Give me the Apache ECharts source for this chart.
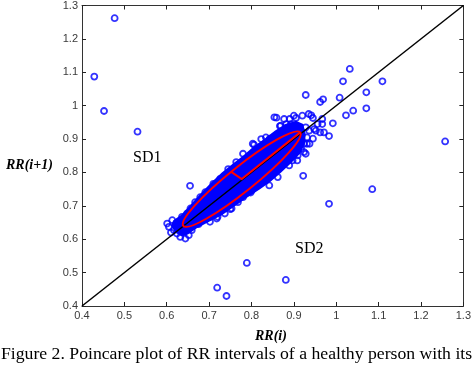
<!DOCTYPE html>
<html><head><meta charset="utf-8">
<script src="https://cdn.jsdelivr.net/npm/echarts@6/dist/echarts.min.js"></script>
<style>html,body{margin:0;padding:0;background:#fff}#c{width:474px;height:365px}</style>
</head><body><div id="c"></div>
<script>
// Axis range / ticks
const AXIS_MIN = 0.4, AXIS_MAX = 1.3, AXIS_STEP = 0.1;
// Identity line
const IDENTITY = [[0.4, 0.4], [1.3, 1.3]];
// Isolated outlier beats [RR(i), RR(i+1)]
const OUTLIERS = [
  [0.477,1.262],[0.429,1.087],[0.452,0.984],[0.531,0.922],
  [1.032,1.110],[1.016,1.073],[1.109,1.073],[1.071,1.040],[0.928,1.032],[0.962,1.011],[0.969,1.019],[1.008,1.024],
  [1.071,0.992],[1.040,0.985],[1.023,0.971],[0.992,0.947],[0.983,0.909],[1.257,0.893],[0.859,0.964],[0.867,0.939],
  [0.806,0.883],[0.922,0.790],[0.928,0.856],[0.945,0.901],
  [1.085,0.750],[0.983,0.706],[0.789,0.529],[0.881,0.478],[0.798,0.740],
  [0.719,0.455],[0.741,0.430],[0.655,0.760],[0.750,0.690],[0.720,0.667]
];
// Beats on the edge of the dense cluster
const CLUSTER_LOW = [
  [0.613,0.657],[0.605,0.637],[0.617,0.627],[0.601,0.647],[0.624,0.617],[0.632,0.607],[0.644,0.602],[0.652,0.612],
  [0.659,0.627],[0.636,0.667],[0.648,0.677],[0.656,0.692],[0.667,0.711],[0.679,0.726],[0.691,0.741],[0.710,0.766],
  [0.726,0.781],[0.718,0.662],[0.702,0.652],[0.737,0.677],[0.753,0.692],[0.768,0.711],[0.780,0.726],[0.610,0.620],
  [0.622,0.645],[0.640,0.630],[0.675,0.645],[0.690,0.660]
];
const CLUSTER_HIGH = [
  [0.803,0.886],[0.834,0.905],[0.854,0.965],[0.869,0.940],[0.877,0.960],[0.900,0.970],[0.920,0.970],[0.935,0.975],
  [0.893,0.945],[0.928,0.935],[0.931,0.905],[0.931,0.886],[0.924,0.861],[0.908,0.836],[0.889,0.821],[0.877,0.826],
  [0.862,0.786],[0.842,0.761],[0.780,0.856],[0.764,0.831],[0.823,0.900],[0.843,0.901],[0.870,0.920],[0.882,0.945],
  [0.890,0.960],[0.905,0.963],[0.941,0.971],[0.945,0.963],[0.967,0.960],[0.956,0.945],[0.948,0.930],[0.962,0.920],
  [0.924,0.886],[0.917,0.871],[0.909,0.851],[0.897,0.836],[0.967,0.945],[0.971,0.920],[0.952,0.925],[0.936,0.925],
  [0.937,0.886],[0.745,0.810],[0.820,0.770],[0.800,0.745]
];
// Outline of the solid (overlapping) core of the cluster
const CORE = [
  [0.610,0.640],[0.620,0.620],[0.635,0.608],[0.650,0.614],[0.670,0.632],[0.700,0.652],[0.730,0.672],[0.760,0.698],
  [0.790,0.725],[0.820,0.750],[0.845,0.772],[0.870,0.800],[0.895,0.830],[0.915,0.857],[0.926,0.885],[0.928,0.915],
  [0.922,0.945],[0.905,0.955],[0.880,0.945],[0.855,0.925],[0.830,0.900],[0.805,0.878],[0.780,0.850],[0.755,0.825],
  [0.730,0.800],[0.705,0.770],[0.680,0.737],[0.655,0.702],[0.635,0.674],[0.615,0.656]
];
// Poincare ellipse: centre, end of SD2 axis, end of SD1 axis
const ELLIPSE_CENTER = [0.777, 0.780];
const SD2_END = [0.915, 0.920];
const SD1_END = [0.753, 0.801];

const chart = echarts.init(document.getElementById('c'), null, {renderer: 'canvas'});
const fmt = v => String(+v.toFixed(1));
const tickCol = '#222';
function mkAxis(pos, showLabel) {
  return {
    type: 'value', min: AXIS_MIN, max: AXIS_MAX, interval: AXIS_STEP, position: pos,
    axisLine: {show: true, onZero: false, lineStyle: {color: '#333', width: 1}},
    axisTick: {show: true, inside: true, length: 4, lineStyle: {color: tickCol}},
    axisLabel: {show: showLabel, color: '#3a3a3a', fontSize: 11, fontFamily: 'Liberation Sans', margin: 4, formatter: fmt},
    splitLine: {show: false}
  };
}
const circleStyle = {color: 'rgba(0,0,0,0)', borderColor: '#0000ff', borderWidth: 1.8};
chart.setOption({
  animation: false,
  grid: {left: 82, right: 6, top: 4.5, bottom: 59, containLabel: false},
  xAxis: [mkAxis('bottom', true), mkAxis('top', false)],
  yAxis: [mkAxis('left', true), mkAxis('right', false)],
  series: [
    {
      type: 'custom', data: CORE, z: 1,
      renderItem: function (params, api) {
        if (params.dataIndex !== 0) return null;
        return {type: 'polygon', shape: {points: CORE.map(p => api.coord(p))}, style: {fill: '#0000ff'}};
      }
    },
    {type: 'scatter', data: CLUSTER_LOW.concat(CLUSTER_HIGH), symbol: 'circle', symbolSize: 6, itemStyle: circleStyle, z: 2},
    {type: 'scatter', data: OUTLIERS, symbol: 'circle', symbolSize: 6, itemStyle: circleStyle, z: 2},
    {type: 'line', data: IDENTITY, symbol: 'none', lineStyle: {color: '#000', width: 1.5}, z: 3},
    {
      type: 'custom', data: [ELLIPSE_CENTER], z: 4,
      renderItem: function (params, api) {
        const c = api.coord(ELLIPSE_CENTER), e2 = api.coord(SD2_END), e1 = api.coord(SD1_END);
        const rx = Math.hypot(e2[0] - c[0], e2[1] - c[1]);
        const ry = Math.hypot(e1[0] - c[0], e1[1] - c[1]);
        const ang = -Math.atan2(e2[1] - c[1], e2[0] - c[0]);
        return {
          type: 'group',
          children: [
            {type: 'ellipse', x: c[0], y: c[1], rotation: ang, shape: {cx: 0, cy: 0, rx: rx, ry: ry},
             style: {fill: 'none', stroke: '#ff0000', lineWidth: 2}},
            {type: 'polyline', shape: {points: [e1, c, e2]}, style: {fill: 'none', stroke: '#ff0000', lineWidth: 2}}
          ]
        };
      }
    }
  ],
  graphic: [
    {type: 'text', left: 6, top: 158, style: {text: 'RR(i+1)', font: 'italic bold 14px "Liberation Serif"', fill: '#000'}},
    {type: 'text', left: 255, top: 329, style: {text: 'RR(i)', font: 'italic bold 14px "Liberation Serif"', fill: '#000'}},
    {type: 'text', left: 133, top: 150, style: {text: 'SD1', font: '16px "Liberation Serif"', fill: '#000'}},
    {type: 'text', left: 295, top: 241, style: {text: 'SD2', font: '16px "Liberation Serif"', fill: '#000'}},
    {type: 'text', left: 1, top: 345, style: {text: 'Figure 2. Poincare plot of RR intervals of a healthy person with its', font: '17.7px "Liberation Serif"', fill: '#000'}}
  ]
});
</script></body></html>
